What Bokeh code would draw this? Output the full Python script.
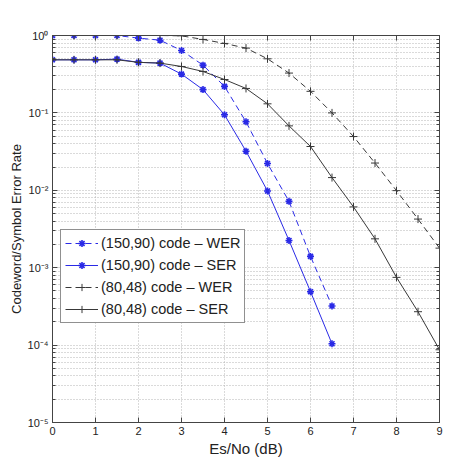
from bokeh.plotting import figure
from bokeh.models import (FixedTicker, LinearAxis, LogAxis, Legend, LegendItem,
                          Range1d)
from bokeh.embed import file_html
from bokeh.resources import INLINE

# ---- data ----
snr = [0, 0.5, 1, 1.5, 2, 2.5, 3, 3.5, 4, 4.5, 5, 5.5, 6, 6.5, 7, 7.5, 8, 8.5, 9]

snr_150 = [0, 0.5, 1, 1.5, 2, 2.5, 3, 3.5, 4, 4.5, 5, 5.5, 6, 6.5]
wer_150 = [1.0, 1.0, 1.0, 1.0, 0.925, 0.87, 0.64, 0.414, 0.22, 0.0767,
           0.0222, 0.0072, 0.0014, 0.00032]
ser_150 = [0.485, 0.485, 0.485, 0.495, 0.45, 0.44, 0.317, 0.2, 0.0945,
           0.032, 0.0098, 0.00225, 0.00049, 0.000104]

snr_80 = snr
wer_80 = [1.0, 1.0, 1.0, 1.0, 1.0, 1.0, 0.99, 0.89, 0.79, 0.687, 0.5, 0.327,
          0.19, 0.1, 0.0495, 0.0225, 0.0099, 0.00425, 0.00179]
ser_80 = [0.485, 0.485, 0.485, 0.485, 0.45, 0.44, 0.398, 0.343, 0.27, 0.207,
          0.131, 0.068, 0.0368, 0.0146, 0.0061, 0.00236, 0.00075, 0.00027,
          0.000087]

labels = ["(150,90) code \u2013 WER", "(150,90) code \u2013 SER",
          "(80,48) code \u2013 WER", "(80,48) code \u2013 SER"]

x_ticks = [0, 1, 2, 3, 4, 5, 6, 7, 8, 9]
y_ticks = [1e-5, 1e-4, 1e-3, 1e-2, 1e-1, 1e0]
y_tick_labels = ["10\u207b\u2075", "10\u207b\u2074", "10\u207b\u00b3",
                 "10\u207b\u00b2", "10\u207b\u00b9", "10\u2070"]
y_minor = [m * d for d in y_ticks[:-1] for m in range(2, 10)]

FONT = "Liberation Sans"
BLUE = "#2a2ae6"
BLACK = "#383838"
AX = "#444444"
GRID = "#b4b4b4"

p = figure(width=474, height=474, y_axis_type="log",
           x_range=Range1d(0, 9), y_range=Range1d(1e-5, 1),
           output_backend="svg", toolbar_location=None,
           min_border_left=52, min_border_right=35,
           min_border_top=35, min_border_bottom=52)
p.background_fill_color = "white"
p.border_fill_color = "white"
p.outline_line_color = AX
p.outline_line_width = 1

# axes
p.xaxis.ticker = FixedTicker(ticks=x_ticks)
p.yaxis.ticker = FixedTicker(ticks=y_ticks, minor_ticks=y_minor)
p.yaxis.major_label_overrides = {t: l for t, l in zip(y_ticks, y_tick_labels)}
for ax in (p.xaxis[0], p.yaxis[0]):
    ax.major_tick_in = 5
    ax.major_tick_out = 0
    ax.minor_tick_in = 3
    ax.minor_tick_out = 0
    ax.axis_line_color = AX
    ax.major_tick_line_color = AX
    ax.minor_tick_line_color = AX
    ax.major_label_text_font = FONT
    ax.major_label_text_font_size = "11px"
    ax.major_label_text_color = "#222222"
    ax.axis_label_text_font = FONT
    ax.axis_label_text_font_style = "normal"
    ax.axis_label_text_font_size = "15px"
    ax.axis_label_text_color = "#222222"
p.xaxis.axis_label = "Es/No (dB)"
p.yaxis.axis_label = "Codeword/Symbol Error Rate"
p.yaxis.axis_label_text_font_size = "13px"
p.xaxis.major_label_standoff = 4
p.yaxis.major_label_standoff = 4
p.xaxis.axis_label_standoff = 2
p.yaxis.axis_label_standoff = 1

# top/right tick-only axes
top = LinearAxis(ticker=FixedTicker(ticks=x_ticks), major_label_text_font_size="0px",
                 major_tick_in=5, major_tick_out=0, minor_tick_in=0, minor_tick_out=0,
                 axis_line_color=AX, major_tick_line_color=AX)
top.major_label_text_alpha = 0
right = LogAxis(ticker=FixedTicker(ticks=y_ticks, minor_ticks=y_minor),
                major_label_text_font_size="0px",
                major_tick_in=5, major_tick_out=0, minor_tick_in=3, minor_tick_out=0,
                axis_line_color=AX, major_tick_line_color=AX,
                minor_tick_line_color=AX)
right.major_label_text_alpha = 0
p.add_layout(top, "above")
p.add_layout(right, "right")

# grid
p.xgrid.grid_line_color = GRID
p.xgrid.grid_line_dash = "1 2"
p.ygrid.grid_line_color = GRID
p.ygrid.grid_line_dash = "1 2"
p.ygrid.minor_grid_line_color = GRID
p.ygrid.minor_grid_line_dash = "1 2"

# series
l1 = p.line(snr_150, wer_150, line_color=BLUE, line_dash="6 4", line_width=1)
m1 = p.scatter(snr_150, wer_150, marker="asterisk", size=7, line_color=BLUE, line_width=1.6)
l2 = p.line(snr_150, ser_150, line_color=BLUE, line_width=1)
m2 = p.scatter(snr_150, ser_150, marker="asterisk", size=7, line_color=BLUE, line_width=1.6)
l3 = p.line(snr_80, wer_80, line_color=BLACK, line_dash="6 4", line_width=1)
m3 = p.scatter(snr_80, wer_80, marker="cross", size=8, line_color=BLACK, line_width=1)
l4 = p.line(snr_80, ser_80, line_color=BLACK, line_width=1)
m4 = p.scatter(snr_80, ser_80, marker="cross", size=8, line_color=BLACK, line_width=1)

legend = Legend(items=[LegendItem(label=labels[0], renderers=[l1, m1]),
                       LegendItem(label=labels[1], renderers=[l2, m2]),
                       LegendItem(label=labels[2], renderers=[l3, m3]),
                       LegendItem(label=labels[3], renderers=[l4, m4])],
                location=(8, 99))
legend.label_text_font = FONT
legend.label_text_font_size = "14.5px"
legend.label_text_color = "#222222"
legend.glyph_width = 33
legend.glyph_height = 18
legend.label_height = 18
legend.spacing = 4
legend.padding = 4
legend.margin = 0
legend.label_standoff = 3
legend.border_line_color = "#222222"
legend.border_line_width = 1
legend.background_fill_alpha = 1
p.add_layout(legend, "center")

open("out.html", "w").write(file_html(p, INLINE))
